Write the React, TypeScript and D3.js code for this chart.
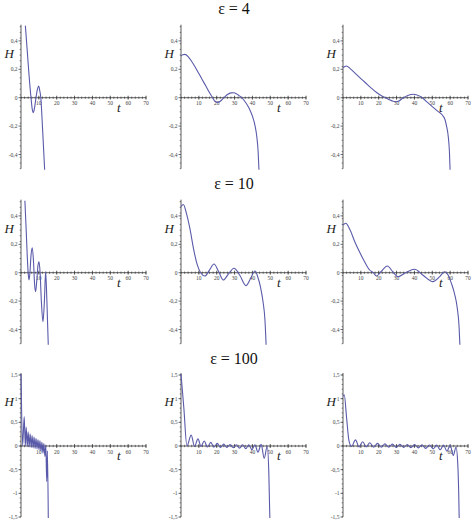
import React from "react";
import * as d3 from "d3";

const titles = ["ε = 4", "ε = 10", "ε = 100"];
const xTicks = [10, 20, 30, 40, 50, 60, 70];
const yTicksSmall = [0.4, 0.2, 0, -0.2, -0.4];
const yTicksLarge = [1.5, 1, 0.5, 0, -0.5, -1, -1.5];

// ε = 4
const e4aT = [2.3, 3.5, 4.5, 5.6, 6.3, 6.9, 7.6, 8.4, 9.2, 9.9, 10.5, 11.1, 12, 13.3];
const e4aH = [0.53, 0.33, 0.16, 0.0, -0.08, -0.105, -0.07, 0.0, 0.06, 0.082, 0.05, 0.0, -0.2, -0.52];
const e4bT = [0, 1, 2.2, 4, 6, 8, 10, 12, 14, 16, 17.7, 19, 20.5, 22, 24, 26, 28, 29.7, 31, 32.5, 34, 36, 38, 40, 41.5, 42.5, 43.2, 43.7];
const e4bH = [0.294, 0.302, 0.305, 0.29, 0.255, 0.215, 0.17, 0.125, 0.08, 0.035, 0, -0.025, -0.033, -0.025, 0, 0.022, 0.034, 0.035, 0.028, 0.015, 0, -0.03, -0.07, -0.13, -0.2, -0.28, -0.38, -0.52];
const e4cT = [0, 1, 1.9, 4, 7, 10, 13, 16, 19, 22, 23.9, 26, 28, 29.5, 31, 33.8, 36, 38, 39.4, 41, 44.4, 47, 50, 53, 55.6, 57, 58, 59, 59.6, 60];
const e4cH = [0.211, 0.22, 0.223, 0.205, 0.17, 0.135, 0.1, 0.066, 0.035, 0.01, 0, -0.015, -0.025, -0.028, -0.025, 0, 0.014, 0.022, 0.024, 0.021, 0, -0.03, -0.063, -0.095, -0.122, -0.15, -0.2, -0.28, -0.38, -0.52];

// ε = 10
const e10aT = [2.1, 2.8, 3.5, 4.0, 4.5, 5.0, 5.6, 6.3, 7.0, 7.6, 8.2, 8.8, 9.5, 10.1, 10.7, 11.4, 12.3, 13.1, 13.8, 14.5, 15.3];
const e10aH = [0.53, 0.33, 0.12, 0.0, -0.051, 0.0, 0.12, 0.176, 0.08, -0.08, -0.134, -0.06, 0.05, 0.077, 0.0, -0.2, -0.345, -0.2, 0.007, -0.2, -0.52];
const e10bT = [0, 1.3, 3, 5, 7, 9, 11, 13.4, 16, 18.5, 21, 23.7, 26.5, 29.7, 33, 36.4, 39, 41.4, 43, 44.5, 46, 47, 47.7];
const e10bH = [0.465, 0.48, 0.42, 0.31, 0.17, 0.06, 0.0, -0.023, 0.02, 0.061, 0.01, -0.051, -0.01, 0.031, -0.02, -0.091, -0.04, 0.012, -0.03, -0.1, -0.21, -0.33, -0.52];
const e10cT = [0, 1.5, 4, 6.6, 9.5, 12.1, 14.9, 17, 18.7, 21.5, 24.8, 28, 30.8, 35, 40.1, 45, 50.4, 54, 56.9, 59, 60.7, 62.5, 64, 65, 65.5];
const e10cH = [0.335, 0.348, 0.3, 0.218, 0.14, 0.077, 0.019, 0.0, -0.023, 0.01, 0.047, 0.005, -0.028, 0.0, 0.024, -0.02, -0.063, -0.03, 0.007, -0.02, -0.075, -0.15, -0.25, -0.38, -0.52];

// ε = 100
const e100aT = [0, 0.9, 1.8, 2.4, 2.9, 3.5, 4.0, 4.6, 5.1, 5.7, 6.2, 6.8, 7.3, 7.9, 8.4, 9.0, 9.5, 10.1, 10.6, 11.2, 11.7, 12.3, 12.8, 13.4, 13.9, 14.4, 14.8, 15.3];
const e100aH = [1.6, 0.0, 0.62, 0.0, 0.4, -0.01, 0.3, -0.02, 0.26, -0.03, 0.22, -0.04, 0.19, -0.05, 0.16, -0.06, 0.13, -0.08, 0.11, -0.11, 0.08, -0.15, 0.05, -0.22, 0.02, -0.75, -0.1, -1.6];
const e100bT = [0, 1.6, 3.3, 5.7, 7.6, 9.5, 11.2, 13.0, 14.8, 16.7, 18.4, 20.3, 22.1, 23.9, 25.7, 27.5, 29.3, 31.0, 32.8, 34.5, 36.3, 38.0, 39.7, 41.4, 43.1, 44.9, 46.6, 48.3, 49.2, 49.8];
const e100bH = [1.52, 0.8, 0.0, 0.23, -0.01, 0.15, -0.01, 0.105, -0.02, 0.077, -0.025, 0.055, -0.03, 0.04, -0.03, 0.03, -0.035, 0.025, -0.045, 0.025, -0.055, 0.025, -0.08, 0.025, -0.13, 0.035, -0.26, 0.0, -0.6, -1.6];
const e100cT = [0, 0.7, 2, 3.3, 4.8, 7.0, 9.0, 11.0, 13.0, 15.0, 17.2, 19.3, 21.4, 23.5, 25.6, 27.7, 29.8, 31.9, 34.0, 36.0, 38.0, 40.1, 42.2, 44.2, 46.3, 48.5, 50.5, 52.5, 54.4, 56.3, 58.2, 60.0, 61.8, 63.3, 64.3, 64.8, 65.1];
const e100cH = [1.05, 1.08, 0.6, 0.12, -0.01, 0.13, -0.02, 0.09, -0.02, 0.07, -0.025, 0.056, -0.025, 0.045, -0.025, 0.04, -0.03, 0.035, -0.03, 0.03, -0.035, 0.03, -0.04, 0.025, -0.05, 0.02, -0.06, 0.02, -0.08, 0.02, -0.11, 0.015, -0.2, -0.02, -0.4, -1.0, -1.6];

const series = [
  [[e4aT, e4aH], [e4bT, e4bH], [e4cT, e4cH]],
  [[e10aT, e10aH], [e10bT, e10bH], [e10cT, e10cH]],
  [[e100aT, e100aH], [e100bT, e100bH], [e100cT, e100cH]],
];

const colX = [21, 181, 343];
const rowZero = [97.7, 272.7, 446];
const half = 71;
const plotW = 125;
const yMax = [0.5, 0.5, 1.5];
const titleY = [14, 189, 364];
const curveColor = "#5a5aaa";

const fmt = (d: number) => (d === 0 ? "0" : String(d).replace(".", ","));

function Panel({ r, c }: { r: number; c: number }) {
  const x0 = colX[c];
  const z = rowZero[r];
  const m = yMax[r];
  const x = d3.scaleLinear().domain([0, 70]).range([x0, x0 + plotW]);
  const y = d3.scaleLinear().domain([-m, m]).range([z + half, z - half]);
  const [ts, hs] = series[r][c];
  const pts = ts.map((t, i) => [t, hs[i]] as [number, number]);
  const line = d3
    .line<[number, number]>()
    .x((d) => x(d[0]))
    .y((d) => y(d[1]))
    .curve(d3.curveMonotoneX);
  const yt = r === 2 ? yTicksLarge : yTicksSmall;
  const minorStep = r === 2 ? 0.1 : 0.04;
  const yMinor = d3.range(-m, m + 1e-9, minorStep);
  const xMinor = d3.range(0, 70.001, 2);
  const id = `clip-${r}-${c}`;
  return (
    <g>
      <defs>
        <clipPath id={id}>
          <rect x={x0 - 2} y={y(m) - 1} width={plotW + 4} height={y(-m) - y(m) + 2} />
        </clipPath>
      </defs>
      <line x1={x0} x2={x0} y1={y(m) - 2} y2={y(-m)} stroke="#333" strokeWidth={0.8} />
      <line x1={x0} x2={x0 + plotW} y1={y(0)} y2={y(0)} stroke="#333" strokeWidth={0.8} />
      {xMinor.map((t) => (
        <line key={"xm" + t} x1={x(t)} x2={x(t)} y1={y(0) - 1.2} y2={y(0) + 1.2} stroke="#333" strokeWidth={0.6} />
      ))}
      {xTicks.map((t) => (
        <g key={"xt" + t}>
          <line x1={x(t)} x2={x(t)} y1={y(0) - 2} y2={y(0) + 2} stroke="#333" strokeWidth={0.7} />
          <text x={x(t)} y={y(0) + 7.5} fontSize={5.5} textAnchor="middle" fill="#444" fontFamily="Liberation Serif">
            {t}
          </text>
        </g>
      ))}
      {yMinor.map((v, i) => (
        <line key={"ym" + i} x1={x0 - 1.3} x2={x0} y1={y(v)} y2={y(v)} stroke="#333" strokeWidth={0.6} />
      ))}
      {yt.map((v) => (
        <g key={"yt" + v}>
          <line x1={x0 - 2.5} x2={x0} y1={y(v)} y2={y(v)} stroke="#333" strokeWidth={0.7} />
          <text x={x0 - 3.5} y={y(v) + 2} fontSize={5.5} textAnchor="end" fill="#444" fontFamily="Liberation Serif">
            {fmt(v)}
          </text>
        </g>
      ))}
      <text x={x0 - 7} y={z - 40} fontSize={13} fontStyle="italic" textAnchor="end" fontFamily="Liberation Serif" fill="#222">
        H
      </text>
      <text x={x0 + 96} y={z + 14} fontSize={13} fontStyle="italic" textAnchor="start" fontFamily="Liberation Serif" fill="#222">
        t
      </text>
      <path d={line(pts) || ""} fill="none" stroke={curveColor} strokeWidth={1.1} clipPath={`url(#${id})`} />
    </g>
  );
}

export default function App() {
  return (
    <svg width={474} height={522} style={{ position: "absolute", left: 0, top: 0, background: "#fff" }}>
      <rect width={474} height={522} fill="#fff" />
      {titles.map((tt, r) => (
        <text key={tt} x={234} y={titleY[r]} fontSize={16} textAnchor="middle" fontFamily="Liberation Serif" fill="#111">
          {tt}
        </text>
      ))}
      {[0, 1, 2].map((r) => [0, 1, 2].map((c) => <Panel key={`${r}-${c}`} r={r} c={c} />))}
    </svg>
  );
}
